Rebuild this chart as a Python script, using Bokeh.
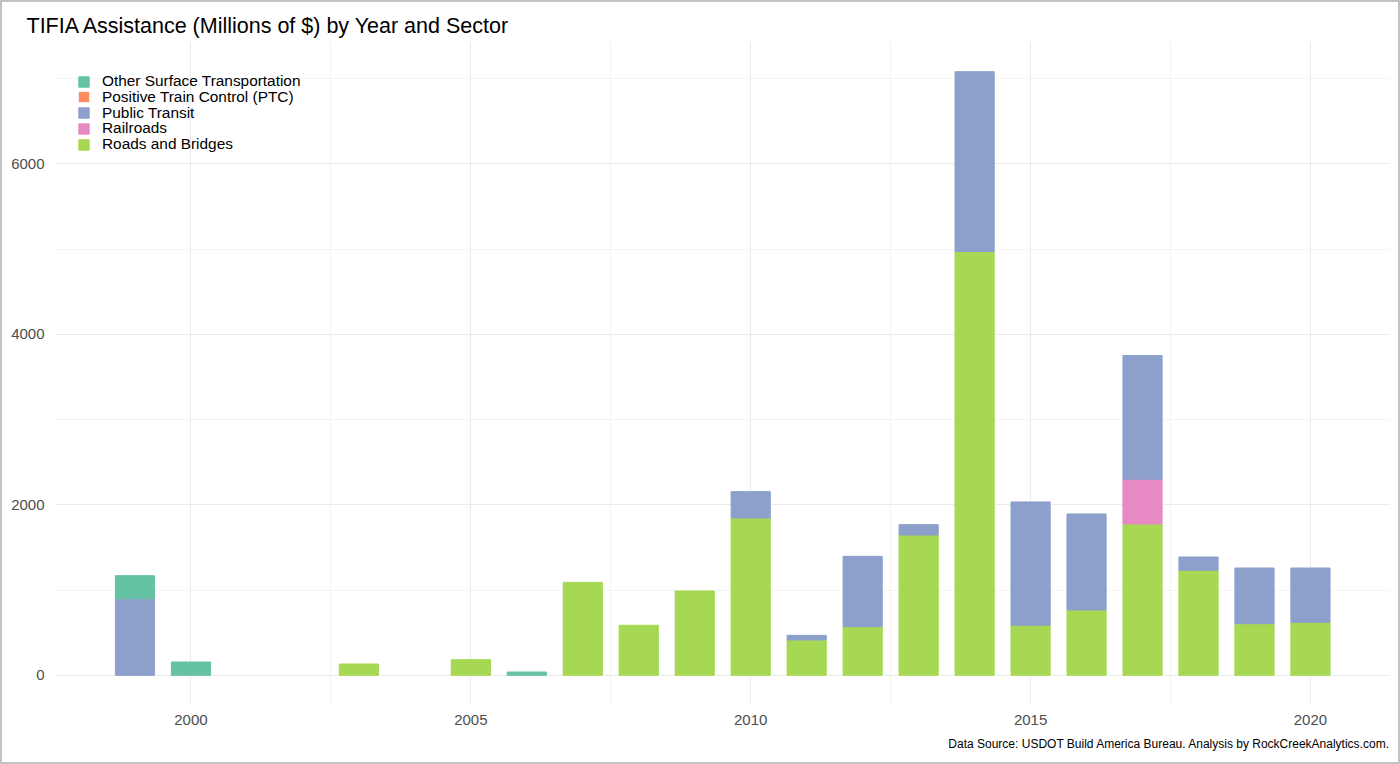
from bokeh.plotting import figure
from bokeh.models import (ColumnDataSource, Legend, LegendItem, Title, FixedTicker,
                          Range1d, NumeralTickFormatter)
from bokeh.layouts import column
from bokeh.embed import file_html
from bokeh.resources import INLINE

years = list(range(1999, 2021))
roads_and_bridges = [0, 0, 0, 0, 133, 0, 184, 0, 1091, 587, 990, 1846, 415, 571, 1646, 4972, 587, 767, 1776, 1232, 606, 622]
railroads = [0, 0, 0, 0, 0, 0, 0, 0, 0, 0, 0, 0, 0, 0, 0, 0, 0, 0, 524, 0, 0, 0]
public_transit = [900, 0, 0, 0, 0, 0, 0, 0, 0, 0, 0, 309, 54, 825, 122, 2110, 1447, 1126, 1452, 156, 653, 637]
positive_train_control = [0] * 22
other_surface = [269, 156, 0, 0, 0, 0, 0, 39, 0, 0, 0, 0, 0, 0, 0, 0, 0, 0, 0, 0, 0, 0]

sectors = ["Other Surface Transportation", "Positive Train Control (PTC)", "Public Transit",
           "Railroads", "Roads and Bridges"]
colors = ["#66C2A5", "#FC8D62", "#8DA0CB", "#E78AC3", "#A6D854"]
x_ticks = [2000, 2005, 2010, 2015, 2020]
y_ticks = [0, 2000, 4000, 6000]

FONT = "Liberation Sans"

p = figure(width=1396, height=760, output_backend="svg", toolbar_location=None,
           x_range=Range1d(1997.58, 2021.43), y_range=Range1d(-354, 7436),
           min_border_left=53, min_border_right=8, min_border_top=39, min_border_bottom=57)
p.outline_line_color = None
p.background_fill_color = "white"
p.border_fill_color = "white"

# stacking bottom -> top: Roads, Railroads, Public Transit, PTC, Other
stack_series = [roads_and_bridges, railroads, public_transit, positive_train_control, other_surface]
stack_colors = [colors[4], colors[3], colors[2], colors[1], colors[0]]
base = [0] * len(years)
renderers = []
for vals, col in zip(stack_series, stack_colors):
    has_data = any(v > 0 for v in vals)
    xs, bots, tops = [], [], []
    for i, v in enumerate(vals):
        if v > 0 or not has_data:
            xs.append(years[i])
            bots.append(base[i])
            tops.append(base[i] + v)
    base = [b + v for b, v in zip(base, vals)]
    src = ColumnDataSource(dict(x=xs, bottom=bots, top=tops))
    r = p.vbar(x="x", bottom="bottom", top="top", width=0.7, source=src,
               fill_color=col, line_color=col if has_data else None,
               fill_alpha=1.0, line_width=1)
    renderers.append(r)

# one legend per row so that the row pitch matches the reference
row_offsets = [615, 599.5, 583.5, 567.8, 552]
for i in range(5):
    lg = Legend(items=[LegendItem(label=sectors[i], renderers=[renderers[4 - i]])],
                location=(22, row_offsets[i]),
                glyph_width=13, glyph_height=13, label_height=13, spacing=0,
                label_standoff=12, padding=0, margin=0,
                label_text_font=FONT, label_text_font_size="15.4px", label_text_color="black",
                background_fill_alpha=0, border_line_color=None)
    p.add_layout(lg, "center")

p.xaxis.ticker = FixedTicker(ticks=x_ticks, minor_ticks=[1997.5, 2002.5, 2007.5, 2012.5, 2017.5, 2022.5])
p.yaxis.ticker = FixedTicker(ticks=y_ticks, minor_ticks=[1000, 3000, 5000, 7000])
for ax in (p.xaxis[0], p.yaxis[0]):
    ax.axis_line_color = None
    ax.major_tick_line_color = None
    ax.minor_tick_line_color = None
    ax.major_tick_out = 0
    ax.major_tick_in = 0
    ax.minor_tick_out = 0
    ax.minor_tick_in = 0
    ax.major_label_text_font = FONT
    ax.major_label_text_font_size = "15px"
    ax.major_label_text_color = "#4d4d4d"
p.xaxis.major_label_standoff = 9
p.yaxis.major_label_standoff = 11
p.yaxis.formatter = NumeralTickFormatter(format="0")

for g in (p.xgrid[0], p.ygrid[0]):
    g.grid_line_color = "#ebebeb"
    g.grid_line_width = 1.1
    g.minor_grid_line_color = "#f1f1f1"
    g.minor_grid_line_width = 0.8

p.add_layout(Title(text="TIFIA Assistance (Millions of $) by Year and Sector", align="left",
                   vertical_align="top", offset=-29, standoff=4, text_font=FONT,
                   text_font_size="21.5px", text_font_style="normal", text_color="black"), "above")
p.add_layout(Title(text="Data Source: USDOT Build America Bureau. Analysis by RockCreekAnalytics.com.",
                   align="right", offset=0, standoff=15, text_font=FONT, text_font_size="12px",
                   text_font_style="normal", text_color="black"), "below")

layout = column(p, styles={"border": "2px solid #c3c3c3"})

open("out.html", "w").write(file_html(layout, INLINE))
